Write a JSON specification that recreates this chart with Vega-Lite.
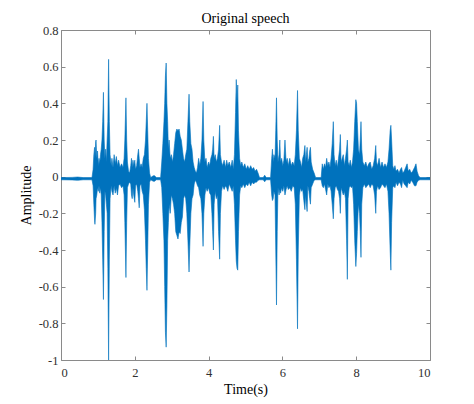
{
  "$schema": "https://vega.github.io/schema/vega-lite/v6.json",
  "width": 369,
  "height": 330,
  "autosize": {"type": "none"},
  "padding": {"left": 61, "top": 30, "right": 44, "bottom": 44},
  "background": "white",
  "title": {"text": "Original speech", "font": "Liberation Serif", "fontSize": 14, "fontWeight": "normal", "color": "#000000", "anchor": "middle", "offset": -2},
  "config": {
    "view": {"stroke": "#8a8a8a", "strokeWidth": 1},
    "axis": {"labelFont": "Liberation Serif", "labelFontSize": 12.5, "labelColor": "#303030", "titleFont": "Liberation Serif", "titleFontSize": 14, "titleFontWeight": "normal", "titleColor": "#000000", "grid": false, "domain": false, "tickColor": "#8a8a8a", "tickSize": -4, "tickWidth": 1}
  },
  "data": {"values": [
    {"t": 0.00, "hi": -0.005, "lo": -0.017},
    {"t": 0.30, "hi": -0.004, "lo": -0.018},
    {"t": 0.45, "hi": -0.002, "lo": -0.02},
    {"t": 0.60, "hi": -0.005, "lo": -0.017},
    {"t": 0.84, "hi": -0.005, "lo": -0.017},
    {"t": 0.87, "hi": 0.04, "lo": -0.05},
    {"t": 0.89, "hi": 0.12, "lo": -0.15},
    {"t": 0.91, "hi": 0.16, "lo": -0.24},
    {"t": 0.92, "hi": 0.1, "lo": -0.26},
    {"t": 0.94, "hi": 0.19, "lo": -0.2},
    {"t": 0.95, "hi": 0.2, "lo": -0.12},
    {"t": 0.97, "hi": 0.1, "lo": -0.1},
    {"t": 0.99, "hi": 0.14, "lo": -0.06},
    {"t": 1.01, "hi": 0.06, "lo": -0.08},
    {"t": 1.03, "hi": 0.1, "lo": -0.05},
    {"t": 1.05, "hi": 0.07, "lo": -0.09},
    {"t": 1.07, "hi": 0.12, "lo": -0.06},
    {"t": 1.09, "hi": 0.15, "lo": -0.1},
    {"t": 1.11, "hi": 0.2, "lo": -0.25},
    {"t": 1.13, "hi": 0.3, "lo": -0.45},
    {"t": 1.15, "hi": 0.46, "lo": -0.67},
    {"t": 1.17, "hi": 0.2, "lo": -0.3},
    {"t": 1.19, "hi": 0.1, "lo": -0.08},
    {"t": 1.21, "hi": 0.15, "lo": -0.1},
    {"t": 1.23, "hi": 0.08, "lo": -0.15},
    {"t": 1.25, "hi": 0.2, "lo": -0.2},
    {"t": 1.27, "hi": 0.3, "lo": -0.5},
    {"t": 1.29, "hi": 0.64, "lo": -1.0},
    {"t": 1.31, "hi": 0.3, "lo": -0.45},
    {"t": 1.33, "hi": 0.12, "lo": -0.12},
    {"t": 1.36, "hi": 0.06, "lo": -0.05},
    {"t": 1.38, "hi": 0.1, "lo": -0.08},
    {"t": 1.41, "hi": 0.05, "lo": -0.1},
    {"t": 1.44, "hi": 0.12, "lo": -0.05},
    {"t": 1.47, "hi": 0.07, "lo": -0.09},
    {"t": 1.50, "hi": 0.11, "lo": -0.06},
    {"t": 1.53, "hi": 0.06, "lo": -0.1},
    {"t": 1.56, "hi": 0.09, "lo": -0.05},
    {"t": 1.60, "hi": 0.05, "lo": -0.04},
    {"t": 1.64, "hi": 0.07, "lo": -0.06},
    {"t": 1.68, "hi": 0.05, "lo": -0.05},
    {"t": 1.71, "hi": 0.1, "lo": -0.1},
    {"t": 1.73, "hi": 0.2, "lo": -0.25},
    {"t": 1.76, "hi": 0.43, "lo": -0.55},
    {"t": 1.78, "hi": 0.2, "lo": -0.25},
    {"t": 1.80, "hi": 0.08, "lo": -0.06},
    {"t": 1.83, "hi": 0.03, "lo": -0.04},
    {"t": 1.86, "hi": 0.02, "lo": -0.03},
    {"t": 1.89, "hi": 0.06, "lo": -0.04},
    {"t": 1.91, "hi": 0.1, "lo": -0.1},
    {"t": 1.93, "hi": 0.05, "lo": -0.12},
    {"t": 1.95, "hi": 0.09, "lo": -0.06},
    {"t": 1.97, "hi": 0.06, "lo": -0.1},
    {"t": 2.00, "hi": 0.09, "lo": -0.14},
    {"t": 2.02, "hi": 0.04, "lo": -0.05},
    {"t": 2.05, "hi": 0.06, "lo": -0.04},
    {"t": 2.08, "hi": 0.12, "lo": -0.08},
    {"t": 2.10, "hi": 0.15, "lo": -0.12},
    {"t": 2.12, "hi": 0.1, "lo": -0.17},
    {"t": 2.14, "hi": 0.05, "lo": -0.05},
    {"t": 2.17, "hi": 0.07, "lo": -0.04},
    {"t": 2.20, "hi": 0.05, "lo": -0.08},
    {"t": 2.23, "hi": 0.1, "lo": -0.1},
    {"t": 2.26, "hi": 0.12, "lo": -0.18},
    {"t": 2.29, "hi": 0.2, "lo": -0.35},
    {"t": 2.31, "hi": 0.3, "lo": -0.5},
    {"t": 2.33, "hi": 0.4, "lo": -0.62},
    {"t": 2.35, "hi": 0.25, "lo": -0.4},
    {"t": 2.37, "hi": 0.1, "lo": -0.15},
    {"t": 2.40, "hi": 0.02, "lo": -0.03},
    {"t": 2.43, "hi": -0.005, "lo": -0.017},
    {"t": 2.50, "hi": 0.005, "lo": -0.025},
    {"t": 2.54, "hi": 0.005, "lo": -0.025},
    {"t": 2.58, "hi": -0.005, "lo": -0.017},
    {"t": 2.70, "hi": -0.005, "lo": -0.017},
    {"t": 2.73, "hi": 0.08, "lo": -0.06},
    {"t": 2.76, "hi": 0.18, "lo": -0.2},
    {"t": 2.79, "hi": 0.3, "lo": -0.35},
    {"t": 2.81, "hi": 0.4, "lo": -0.6},
    {"t": 2.83, "hi": 0.55, "lo": -0.85},
    {"t": 2.85, "hi": 0.62, "lo": -0.93},
    {"t": 2.87, "hi": 0.4, "lo": -0.7},
    {"t": 2.89, "hi": 0.3, "lo": -0.35},
    {"t": 2.91, "hi": 0.15, "lo": -0.25},
    {"t": 2.93, "hi": 0.2, "lo": -0.15},
    {"t": 2.96, "hi": 0.1, "lo": -0.2},
    {"t": 2.99, "hi": 0.12, "lo": -0.1},
    {"t": 3.02, "hi": 0.08, "lo": -0.12},
    {"t": 3.05, "hi": 0.12, "lo": -0.15},
    {"t": 3.08, "hi": 0.18, "lo": -0.2},
    {"t": 3.11, "hi": 0.24, "lo": -0.3},
    {"t": 3.14, "hi": 0.26, "lo": -0.32},
    {"t": 3.17, "hi": 0.25, "lo": -0.34},
    {"t": 3.20, "hi": 0.26, "lo": -0.3},
    {"t": 3.23, "hi": 0.22, "lo": -0.31},
    {"t": 3.26, "hi": 0.2, "lo": -0.25},
    {"t": 3.29, "hi": 0.15, "lo": -0.22},
    {"t": 3.32, "hi": 0.1, "lo": -0.12},
    {"t": 3.35, "hi": 0.08, "lo": -0.1},
    {"t": 3.38, "hi": 0.12, "lo": -0.12},
    {"t": 3.41, "hi": 0.15, "lo": -0.2},
    {"t": 3.44, "hi": 0.3, "lo": -0.35},
    {"t": 3.47, "hi": 0.45, "lo": -0.52},
    {"t": 3.49, "hi": 0.3, "lo": -0.38},
    {"t": 3.52, "hi": 0.18, "lo": -0.2},
    {"t": 3.55, "hi": 0.15, "lo": -0.12},
    {"t": 3.58, "hi": 0.08, "lo": -0.1},
    {"t": 3.61, "hi": 0.05, "lo": -0.04},
    {"t": 3.64, "hi": 0.03, "lo": -0.02},
    {"t": 3.67, "hi": 0.02, "lo": -0.03},
    {"t": 3.70, "hi": 0.05, "lo": -0.05},
    {"t": 3.73, "hi": 0.1, "lo": -0.06},
    {"t": 3.76, "hi": 0.06, "lo": -0.1},
    {"t": 3.79, "hi": 0.1, "lo": -0.12},
    {"t": 3.82, "hi": 0.2, "lo": -0.2},
    {"t": 3.85, "hi": 0.41, "lo": -0.38},
    {"t": 3.87, "hi": 0.2, "lo": -0.2},
    {"t": 3.90, "hi": 0.08, "lo": -0.1},
    {"t": 3.93, "hi": 0.1, "lo": -0.06},
    {"t": 3.96, "hi": 0.05, "lo": -0.08},
    {"t": 4.00, "hi": 0.08, "lo": -0.06},
    {"t": 4.03, "hi": 0.06, "lo": -0.09},
    {"t": 4.06, "hi": 0.1, "lo": -0.1},
    {"t": 4.09, "hi": 0.12, "lo": -0.2},
    {"t": 4.11, "hi": 0.15, "lo": -0.3},
    {"t": 4.13, "hi": 0.22, "lo": -0.4},
    {"t": 4.15, "hi": 0.1, "lo": -0.15},
    {"t": 4.18, "hi": 0.12, "lo": -0.08},
    {"t": 4.21, "hi": 0.08, "lo": -0.12},
    {"t": 4.24, "hi": 0.1, "lo": -0.1},
    {"t": 4.27, "hi": 0.15, "lo": -0.3},
    {"t": 4.30, "hi": 0.28, "lo": -0.45},
    {"t": 4.32, "hi": 0.12, "lo": -0.2},
    {"t": 4.35, "hi": 0.08, "lo": -0.08},
    {"t": 4.38, "hi": 0.06, "lo": -0.05},
    {"t": 4.42, "hi": 0.09, "lo": -0.07},
    {"t": 4.46, "hi": 0.05, "lo": -0.05},
    {"t": 4.49, "hi": 0.09, "lo": -0.06},
    {"t": 4.52, "hi": 0.06, "lo": -0.08},
    {"t": 4.56, "hi": 0.08, "lo": -0.04},
    {"t": 4.60, "hi": 0.05, "lo": -0.06},
    {"t": 4.64, "hi": 0.09, "lo": -0.08},
    {"t": 4.67, "hi": 0.04, "lo": -0.05},
    {"t": 4.70, "hi": 0.12, "lo": -0.15},
    {"t": 4.73, "hi": 0.35, "lo": -0.35},
    {"t": 4.75, "hi": 0.53, "lo": -0.46},
    {"t": 4.77, "hi": 0.4, "lo": -0.5},
    {"t": 4.79, "hi": 0.5, "lo": -0.51},
    {"t": 4.81, "hi": 0.25, "lo": -0.3},
    {"t": 4.84, "hi": 0.1, "lo": -0.1},
    {"t": 4.87, "hi": 0.06, "lo": -0.05},
    {"t": 4.90, "hi": 0.08, "lo": -0.06},
    {"t": 4.94, "hi": 0.05, "lo": -0.04},
    {"t": 4.98, "hi": 0.07, "lo": -0.06},
    {"t": 5.02, "hi": 0.04, "lo": -0.04},
    {"t": 5.06, "hi": 0.06, "lo": -0.05},
    {"t": 5.10, "hi": 0.04, "lo": -0.03},
    {"t": 5.14, "hi": 0.06, "lo": -0.05},
    {"t": 5.18, "hi": 0.04, "lo": -0.03},
    {"t": 5.22, "hi": 0.05, "lo": -0.04},
    {"t": 5.26, "hi": 0.03, "lo": -0.03},
    {"t": 5.30, "hi": 0.04, "lo": -0.03},
    {"t": 5.34, "hi": 0.02, "lo": -0.02},
    {"t": 5.38, "hi": -0.005, "lo": -0.017},
    {"t": 5.48, "hi": -0.005, "lo": -0.017},
    {"t": 5.52, "hi": 0.008, "lo": -0.028},
    {"t": 5.56, "hi": -0.005, "lo": -0.017},
    {"t": 5.68, "hi": -0.005, "lo": -0.017},
    {"t": 5.71, "hi": 0.1, "lo": -0.1},
    {"t": 5.73, "hi": 0.15, "lo": -0.13},
    {"t": 5.75, "hi": 0.08, "lo": -0.12},
    {"t": 5.77, "hi": 0.12, "lo": -0.08},
    {"t": 5.80, "hi": 0.1, "lo": -0.1},
    {"t": 5.82, "hi": 0.25, "lo": -0.4},
    {"t": 5.84, "hi": 0.43, "lo": -0.7},
    {"t": 5.86, "hi": 0.2, "lo": -0.3},
    {"t": 5.88, "hi": 0.08, "lo": -0.06},
    {"t": 5.91, "hi": 0.12, "lo": -0.1},
    {"t": 5.93, "hi": 0.2, "lo": -0.07},
    {"t": 5.95, "hi": 0.08, "lo": -0.09},
    {"t": 5.98, "hi": 0.1, "lo": -0.06},
    {"t": 6.01, "hi": 0.06, "lo": -0.08},
    {"t": 6.04, "hi": 0.09, "lo": -0.05},
    {"t": 6.07, "hi": 0.2, "lo": -0.1},
    {"t": 6.10, "hi": 0.08, "lo": -0.07},
    {"t": 6.13, "hi": 0.1, "lo": -0.05},
    {"t": 6.16, "hi": 0.06, "lo": -0.07},
    {"t": 6.20, "hi": 0.1, "lo": -0.06},
    {"t": 6.24, "hi": 0.06, "lo": -0.08},
    {"t": 6.28, "hi": 0.08, "lo": -0.05},
    {"t": 6.32, "hi": 0.06, "lo": -0.06},
    {"t": 6.35, "hi": 0.12, "lo": -0.15},
    {"t": 6.38, "hi": 0.25, "lo": -0.45},
    {"t": 6.41, "hi": 0.47, "lo": -0.83},
    {"t": 6.43, "hi": 0.25, "lo": -0.4},
    {"t": 6.46, "hi": 0.1, "lo": -0.1},
    {"t": 6.49, "hi": 0.08, "lo": -0.06},
    {"t": 6.52, "hi": 0.05, "lo": -0.08},
    {"t": 6.55, "hi": 0.1, "lo": -0.07},
    {"t": 6.58, "hi": 0.12, "lo": -0.13},
    {"t": 6.61, "hi": 0.17, "lo": -0.18},
    {"t": 6.63, "hi": 0.08, "lo": -0.1},
    {"t": 6.65, "hi": 0.12, "lo": -0.15},
    {"t": 6.67, "hi": 0.16, "lo": -0.19},
    {"t": 6.69, "hi": 0.08, "lo": -0.05},
    {"t": 6.72, "hi": 0.1, "lo": -0.08},
    {"t": 6.74, "hi": 0.14, "lo": -0.12},
    {"t": 6.76, "hi": 0.16, "lo": -0.15},
    {"t": 6.78, "hi": 0.08, "lo": -0.06},
    {"t": 6.82, "hi": 0.04, "lo": -0.04},
    {"t": 6.86, "hi": 0.02, "lo": -0.02},
    {"t": 6.90, "hi": -0.005, "lo": -0.017},
    {"t": 7.05, "hi": -0.005, "lo": -0.017},
    {"t": 7.08, "hi": 0.07, "lo": -0.05},
    {"t": 7.11, "hi": 0.04, "lo": -0.06},
    {"t": 7.14, "hi": 0.07, "lo": -0.04},
    {"t": 7.17, "hi": 0.05, "lo": -0.07},
    {"t": 7.20, "hi": 0.1, "lo": -0.1},
    {"t": 7.23, "hi": 0.06, "lo": -0.04},
    {"t": 7.26, "hi": 0.08, "lo": -0.06},
    {"t": 7.29, "hi": 0.05, "lo": -0.05},
    {"t": 7.32, "hi": 0.1, "lo": -0.08},
    {"t": 7.35, "hi": 0.18, "lo": -0.15},
    {"t": 7.38, "hi": 0.3, "lo": -0.23},
    {"t": 7.40, "hi": 0.12, "lo": -0.12},
    {"t": 7.43, "hi": 0.06, "lo": -0.06},
    {"t": 7.46, "hi": 0.09, "lo": -0.05},
    {"t": 7.49, "hi": 0.05, "lo": -0.07},
    {"t": 7.52, "hi": 0.1, "lo": -0.08},
    {"t": 7.55, "hi": 0.15, "lo": -0.12},
    {"t": 7.57, "hi": 0.23, "lo": -0.2},
    {"t": 7.59, "hi": 0.08, "lo": -0.06},
    {"t": 7.62, "hi": 0.1, "lo": -0.08},
    {"t": 7.65, "hi": 0.12, "lo": -0.1},
    {"t": 7.68, "hi": 0.06, "lo": -0.08},
    {"t": 7.71, "hi": 0.1, "lo": -0.12},
    {"t": 7.74, "hi": 0.15, "lo": -0.35},
    {"t": 7.76, "hi": 0.2, "lo": -0.56},
    {"t": 7.78, "hi": 0.08, "lo": -0.12},
    {"t": 7.81, "hi": 0.06, "lo": -0.06},
    {"t": 7.84, "hi": 0.09, "lo": -0.05},
    {"t": 7.87, "hi": 0.05, "lo": -0.06},
    {"t": 7.90, "hi": 0.08, "lo": -0.05},
    {"t": 7.93, "hi": 0.15, "lo": -0.15},
    {"t": 7.96, "hi": 0.3, "lo": -0.35},
    {"t": 7.99, "hi": 0.42, "lo": -0.49},
    {"t": 8.01, "hi": 0.4, "lo": -0.42},
    {"t": 8.03, "hi": 0.3, "lo": -0.3},
    {"t": 8.06, "hi": 0.15, "lo": -0.15},
    {"t": 8.09, "hi": 0.12, "lo": -0.2},
    {"t": 8.11, "hi": 0.2, "lo": -0.3},
    {"t": 8.13, "hi": 0.3, "lo": -0.44},
    {"t": 8.15, "hi": 0.15, "lo": -0.15},
    {"t": 8.18, "hi": 0.08, "lo": -0.06},
    {"t": 8.22, "hi": 0.06, "lo": -0.04},
    {"t": 8.26, "hi": 0.08, "lo": -0.06},
    {"t": 8.30, "hi": 0.05, "lo": -0.05},
    {"t": 8.34, "hi": 0.07, "lo": -0.04},
    {"t": 8.38, "hi": 0.08, "lo": -0.06},
    {"t": 8.42, "hi": 0.04, "lo": -0.04},
    {"t": 8.46, "hi": 0.06, "lo": -0.05},
    {"t": 8.50, "hi": 0.1, "lo": -0.1},
    {"t": 8.53, "hi": 0.17, "lo": -0.2},
    {"t": 8.55, "hi": 0.08, "lo": -0.08},
    {"t": 8.58, "hi": 0.06, "lo": -0.05},
    {"t": 8.62, "hi": 0.1, "lo": -0.07},
    {"t": 8.66, "hi": 0.05, "lo": -0.06},
    {"t": 8.70, "hi": 0.08, "lo": -0.04},
    {"t": 8.74, "hi": 0.05, "lo": -0.05},
    {"t": 8.78, "hi": 0.07, "lo": -0.06},
    {"t": 8.82, "hi": 0.05, "lo": -0.04},
    {"t": 8.86, "hi": 0.08, "lo": -0.08},
    {"t": 8.89, "hi": 0.15, "lo": -0.2},
    {"t": 8.92, "hi": 0.25, "lo": -0.4},
    {"t": 8.94, "hi": 0.28, "lo": -0.51},
    {"t": 8.96, "hi": 0.2, "lo": -0.25},
    {"t": 8.99, "hi": 0.06, "lo": -0.06},
    {"t": 9.02, "hi": 0.04, "lo": -0.05},
    {"t": 9.05, "hi": 0.06, "lo": -0.06},
    {"t": 9.08, "hi": 0.03, "lo": -0.03},
    {"t": 9.12, "hi": 0.04, "lo": -0.05},
    {"t": 9.16, "hi": 0.02, "lo": -0.03},
    {"t": 9.20, "hi": 0.04, "lo": -0.04},
    {"t": 9.23, "hi": 0.05, "lo": -0.06},
    {"t": 9.26, "hi": 0.02, "lo": -0.02},
    {"t": 9.30, "hi": 0.03, "lo": -0.04},
    {"t": 9.34, "hi": 0.05, "lo": -0.05},
    {"t": 9.38, "hi": 0.07, "lo": -0.06},
    {"t": 9.41, "hi": 0.03, "lo": -0.03},
    {"t": 9.45, "hi": 0.04, "lo": -0.04},
    {"t": 9.49, "hi": 0.02, "lo": -0.02},
    {"t": 9.53, "hi": 0.03, "lo": -0.03},
    {"t": 9.58, "hi": 0.05, "lo": -0.05},
    {"t": 9.62, "hi": 0.07, "lo": -0.05},
    {"t": 9.65, "hi": 0.03, "lo": -0.03},
    {"t": 9.69, "hi": 0.005, "lo": -0.02},
    {"t": 9.73, "hi": -0.005, "lo": -0.017},
    {"t": 10.0, "hi": -0.005, "lo": -0.017}
  ]},
  "resolve": {"axis": {"x": "independent", "y": "independent"}},
  "layer": [
    {
      "mark": {"type": "area", "color": "#0072BD", "stroke": "#0072BD", "strokeWidth": 0.6, "clip": true},
      "encoding": {
        "x": {"field": "t", "type": "quantitative", "scale": {"domain": [0, 10], "nice": false, "zero": false},
              "axis": {"orient": "bottom", "title": "Time(s)", "values": [0, 2, 4, 6, 8, 10], "labelFont": "Liberation Serif", "labelFontSize": 12.5, "labelPadding": 10, "titleFont": "Liberation Serif", "titleY": 33, "titleBaseline": "alphabetic", "titleAnchor": "middle"}},
        "y": {"field": "hi", "type": "quantitative", "scale": {"domain": [-1, 0.8], "nice": false, "zero": false},
              "axis": {"orient": "left", "title": "Amplitude", "values": [-1, -0.8, -0.6, -0.4, -0.2, 0, 0.2, 0.4, 0.6, 0.8], "labelFont": "Liberation Serif", "labelFontSize": 12.5, "labelPadding": 7,
                       "labelExpr": "(datum.value < 0 ? '-' : '') + format(abs(datum.value), '~g')",
                       "titleFont": "Liberation Serif", "titleX": -28, "titleY": 165, "titleBaseline": "bottom", "titleAngle": -90}},
        "y2": {"field": "lo"}
      }
    },
    {
      "mark": {"type": "point", "opacity": 0},
      "encoding": {
        "x": {"field": "t", "type": "quantitative", "axis": {"orient": "top", "title": null, "labels": false, "values": [0, 2, 4, 6, 8, 10]}},
        "y": {"field": "hi", "type": "quantitative", "axis": {"orient": "right", "title": null, "labels": false, "values": [-1, -0.8, -0.6, -0.4, -0.2, 0, 0.2, 0.4, 0.6, 0.8]}}
      }
    }
  ]
}
